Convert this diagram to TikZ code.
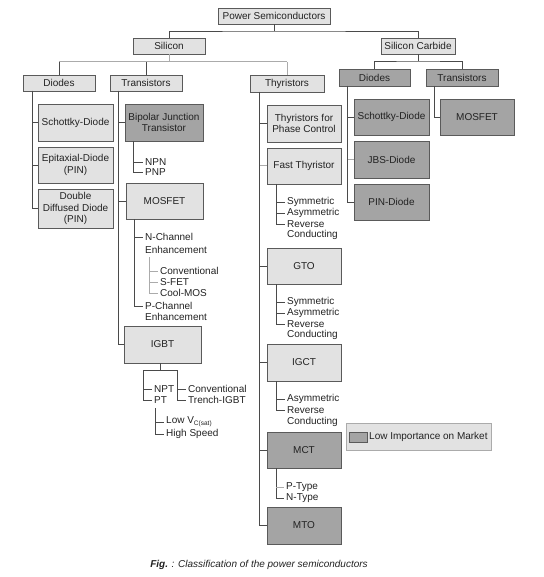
\documentclass[tikz,border=0pt]{standalone}
\usepackage{fontspec}
\setmainfont{Liberation Sans}
\definecolor{lg}{HTML}{E2E2E2}
\definecolor{dg}{HTML}{A4A4A4}
\definecolor{bd}{HTML}{5A5A5A}
\definecolor{ln}{HTML}{4A4A4A}
\definecolor{ll}{HTML}{ABABAB}
\definecolor{tx}{HTML}{222222}
\newcommand{\fs}{\fontsize{10}{11.5}\selectfont}
\tikzset{
  box/.style={draw=bd, fill=lg, line width=0.8pt, inner sep=1pt, align=center, font=\fs, text=tx},
  dbox/.style={box, fill=dg},
  lbl/.style={anchor=west, inner sep=0pt, font=\fs, text=tx},
  conn/.style={draw=ln, line width=0.8pt},
  lconn/.style={draw=ll, line width=1pt},
}
\begin{document}
\begin{tikzpicture}[x=1pt,y=-1pt]
\useasboundingbox (0,0) rectangle (543,577);
% top level
\node[box, minimum width=112, minimum height=16] (ps) at (274,16) {Power Semiconductors};
\node[box, minimum width=72, minimum height=16] (si) at (169,46) {Silicon};
\node[box, minimum width=74, minimum height=16] (sic) at (418,46) {Silicon Carbide};
% silicon level
\node[box, minimum width=72, minimum height=16] (sid) at (59,83) {Diodes};
\node[box, minimum width=72, minimum height=16] (sit) at (146,83) {Transistors};
\node[box, minimum width=74, minimum height=17] (sith) at (287,83.5) {Thyristors};
% SiC level
\node[dbox, minimum width=71, minimum height=17] (cd) at (374.5,77.5) {Diodes};
\node[dbox, minimum width=72, minimum height=17] (ct) at (462,77.5) {Transistors};
\node[dbox, minimum width=75, minimum height=36] (csd) at (391.5,117) {Schottky-Diode};
\node[dbox, minimum width=74, minimum height=36] (cm) at (477,117) {MOSFET};
\node[dbox, minimum width=75, minimum height=37] (jbs) at (391.5,159.5) {JBS-Diode};
\node[dbox, minimum width=75, minimum height=36] (pin) at (391.5,202) {PIN-Diode};
% Si diodes
\node[box, minimum width=75, minimum height=37] (ssd) at (75.5,122.5) {Schottky-Diode};
\node[box, minimum width=75, minimum height=36] (epi) at (75.5,165) {Epitaxial-Diode\\(PIN)};
\node[box, minimum width=75, minimum height=39] (ddd) at (75.5,208.5) {Double\\Diffused Diode\\(PIN)};
% Si transistors
\node[dbox, minimum width=78, minimum height=37] (bjt) at (164,122.5) {Bipolar Junction\\Transistor};
\node[box, minimum width=77, minimum height=36] (mos) at (164.5,201) {MOSFET};
\node[box, minimum width=77, minimum height=37] (igbt) at (162.5,344.5) {IGBT};
% thyristors
\node[box, minimum width=74, minimum height=37] (tpc) at (304,123.5) {Thyristors for\\Phase Control};
\node[box, minimum width=74, minimum height=36] (ft) at (304,166) {Fast Thyristor};
\node[box, minimum width=74, minimum height=36] (gto) at (304,266) {GTO};
\node[box, minimum width=74, minimum height=37] (igct) at (304,362.5) {IGCT};
\node[dbox, minimum width=74, minimum height=36] (mct) at (304,450) {MCT};
\node[dbox, minimum width=74, minimum height=37] (mto) at (304,525.5) {MTO};
% legend
\node[draw=ll, fill=lg, line width=0.8pt, minimum width=145, minimum height=27, inner sep=0] (leg) at (418.5,436.5) {};
\node[draw=bd, fill=dg, line width=0.8pt, minimum width=18, minimum height=10, inner sep=0] (sw) at (358,437) {};
\node[lbl] (legt) at (369,436.5) {Low Importance on Market};

% top connectors
\coordinate (j0) at (274,31);
\draw[conn] (ps.south) -- (j0);
\draw[conn] (si.north) |- (j0) -| (sic.north);
% silicon connectors
\coordinate (j1) at (169,62);
\draw[lconn] (si.south) -- (j1);
\draw[lconn] (sid.north |- j1) -- (sith.north |- j1);
\draw[conn] (sid.north) -- (sid.north |- j1);
\draw[conn] (sit.north) -- (sit.north |- j1);
\draw[lconn] (sith.north) -- (sith.north |- j1);
% SiC connectors
\coordinate (j2) at (418,61);
\draw[conn] (sic.south) -- (j2);
\draw[conn] (cd.north) |- (j2) -| (ct.north);
\coordinate (cdt) at (347,86);
\draw[conn] (cdt) |- (csd.west);
\draw[lconn] (cdt |- jbs.west) -- (jbs.west);
\draw[conn] (cdt) |- (pin.west);
\coordinate (ctt) at (434,86);
\draw[conn] (ctt) |- (cm.west);
% Si diodes trunk
\coordinate (sdt) at (32,91);
\draw[conn] (sdt) |- (ssd.west);
\draw[conn] (sdt) |- (epi.west);
\draw[conn] (sdt) |- (ddd.west);
% Si transistors trunk
\coordinate (stt) at (118,91);
\draw[conn] (stt) |- (bjt.west);
\draw[conn] (stt) |- (mos.west);
\draw[conn] (stt) |- (igbt.west);
% thyristor trunk
\coordinate (tht) at (259,92);
\draw[conn] (tht) |- (tpc.west);
\draw[lconn] (tht |- ft.west) -- (ft.west);
\draw[conn] (tht |- gto.west) -- (gto.west);
\draw[conn] (tht |- igct.west) -- (igct.west);
\draw[conn] (tht |- mct.west) -- (mct.west);
\draw[conn] (tht) |- (mto.west);

% BJT sub labels
\node[lbl] (npn) at (145,162) {NPN};
\node[lbl] (pnp) at (145,172) {PNP};
\coordinate (bt) at (133,141);
\draw[conn] (bt) |- ([xshift=-2pt]pnp.west);
\draw[conn] (bt |- npn.west) -- ([xshift=-2pt]npn.west);
% MOSFET sub labels
\node[lbl] (nch1) at (145,237) {N-Channel};
\node[lbl] (nch2) at (145,250) {Enhancement};
\node[lbl] (conv) at (160,271) {Conventional};
\node[lbl] (sfet) at (160,282) {S-FET};
\node[lbl] (cool) at (160,293) {Cool-MOS};
\node[lbl] (pch1) at (145,306) {P-Channel};
\node[lbl] (pch2) at (145,317) {Enhancement};
\coordinate (mt) at (134,219);
\draw[conn] (mt) |- ([xshift=-2pt]pch1.west);
\draw[conn] (mt |- nch1.west) -- ([xshift=-2pt]nch1.west);
\coordinate (mt2) at (149,257);
\draw[lconn] (mt2) |- ([xshift=-2pt]cool.west);
\draw[lconn] (mt2 |- conv.west) -- ([xshift=-2pt]conv.west);
\draw[lconn] (mt2 |- sfet.west) -- ([xshift=-2pt]sfet.west);
% IGBT sub labels
\node[lbl] (npt) at (154,389) {NPT};
\node[lbl] (pt) at (154,400) {PT};
\node[lbl] (conv2) at (188,389) {Conventional};
\node[lbl] (trench) at (188,400) {Trench-IGBT};
\node[lbl] (lowv) at (166,422) {Low V\raisebox{-0.45ex}{\fontsize{6.5}{7}\selectfont C(sat)}};
\node[lbl] (hs) at (166,434) {High Speed};
\coordinate (ig0) at (160,363);
\coordinate (ig1) at (160,370);
\coordinate (igL) at (143,370);
\coordinate (igR) at (177,370);
\draw[conn] (ig0) -- (ig1);
\draw[conn] (igL) -- (igR);
\draw[conn] (igL) |- ([xshift=-2pt]pt.west);
\draw[conn] (igL |- npt.west) -- ([xshift=-2pt]npt.west);
\draw[conn] (igR) |- ([xshift=-2pt]trench.west);
\draw[conn] (igR |- conv2.west) -- ([xshift=-2pt]conv2.west);
\coordinate (lv) at (155,408);
\draw[conn] (lv) |- ([xshift=-2pt]hs.west);
\draw[conn] (lv |- lowv.west) -- ([xshift=-2pt]lowv.west);
% Fast thyristor sub labels
\node[lbl] (sym1) at (287,202) {Symmetric};
\node[lbl] (asym1) at (287,213) {Asymmetric};
\node[lbl] (rev1) at (287,224) {Reverse};
\node[lbl] (cond1) at (287,235) {Conducting};
\coordinate (ftt) at (276,184);
\draw[conn] (ftt) |- ([xshift=-2pt]rev1.west);
\draw[conn] (ftt |- sym1.west) -- ([xshift=-2pt]sym1.west);
\draw[conn] (ftt |- asym1.west) -- ([xshift=-2pt]asym1.west);
% GTO sub labels
\node[lbl] (sym2) at (287,302) {Symmetric};
\node[lbl] (asym2) at (287,313) {Asymmetric};
\node[lbl] (rev2) at (287,324) {Reverse};
\node[lbl] (cond2) at (287,335) {Conducting};
\coordinate (gtt) at (276,284);
\draw[conn] (gtt) |- ([xshift=-2pt]rev2.west);
\draw[conn] (gtt |- sym2.west) -- ([xshift=-2pt]sym2.west);
\draw[conn] (gtt |- asym2.west) -- ([xshift=-2pt]asym2.west);
% IGCT sub labels
\node[lbl] (asym3) at (287,399) {Asymmetric};
\node[lbl] (rev3) at (287,410.5) {Reverse};
\node[lbl] (cond3) at (287,422) {Conducting};
\coordinate (igt) at (276,381);
\draw[conn] (igt) |- ([xshift=-2pt]rev3.west);
\draw[conn] (igt |- asym3.west) -- ([xshift=-2pt]asym3.west);
% MCT sub labels
\node[lbl] (ptype) at (286,487) {P-Type};
\node[lbl] (ntype) at (286,498) {N-Type};
\coordinate (mctt) at (276,468);
\draw[conn] (mctt) |- ([xshift=-2pt]ntype.west);
\draw[lconn] (mctt |- ptype.west) -- ([xshift=-2pt]ptype.west);
% caption
\node[inner sep=0pt, font=\fs, text=tx] (cap) at (259,565) {\textbf{\textit{Fig.}} \textit{: Classification of the power semiconductors}};
\end{tikzpicture}
\end{document}
